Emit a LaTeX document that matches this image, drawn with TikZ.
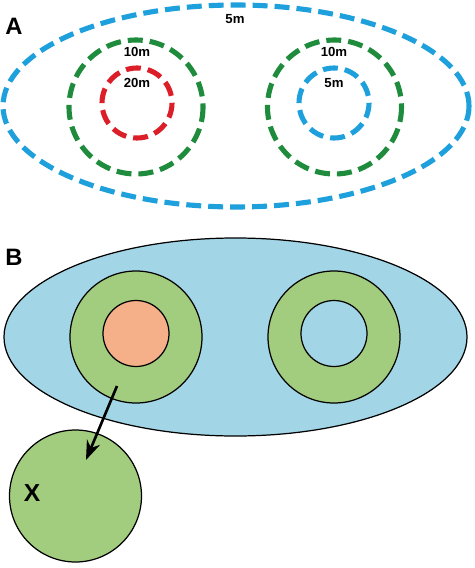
\documentclass[tikz,border=0pt]{standalone}
\usepackage{fontspec}
\setmainfont{Liberation Sans}
\usetikzlibrary{arrows.meta}
\definecolor{zoneblue}{RGB}{30,160,220}
\definecolor{zonegreen}{RGB}{30,140,60}
\definecolor{zonered}{RGB}{220,30,40}
\definecolor{fillblue}{RGB}{162,214,230}
\definecolor{fillgreen}{RGB}{162,204,126}
\definecolor{fillorange}{RGB}{245,176,138}

\begin{document}
\begin{tikzpicture}[x=0.2mm,y=-0.2mm,
    zone/.style={line width=2.9pt, dash pattern=on 8.5pt off 4pt},
    patch/.style={draw=black, line width=0.7pt},
    panel/.style={font=\fontsize{13.5}{16}\selectfont\bfseries},
    dist/.style={font=\fontsize{7.5}{9}\selectfont\bfseries}]
    \useasboundingbox (0,0) rectangle (474,568);

    % Panel A: dashed zones
    \draw[zone, zoneblue] (236,106) ellipse [x radius=233, y radius=101];
    \draw[zone, zonegreen] (136,107) circle [radius=67];
    \draw[zone, zonered] (137,103) circle [radius=35];
    \draw[zone, zonegreen] (334.5,107) circle [radius=67];
    \draw[zone, zoneblue] (334,103) circle [radius=35];

    % Panel A: labels
    \node[panel] (labelA) at (14,26) {A};
    \node[dist] (outerA) at (235,19) {5m};
    \node[dist] (leftmid) at (137,52) {10m};
    \node[dist] (leftin) at (137,83) {20m};
    \node[dist] (rightmid) at (334,52) {10m};
    \node[dist] (rightin) at (334,83) {5m};

    % Panel B: filled patches
    \filldraw[patch, fill=fillblue] (235.5,337) ellipse [x radius=231.5, y radius=99];
    \filldraw[patch, fill=fillgreen] (136,337) circle [radius=66];
    \filldraw[patch, fill=fillorange] (136,333.5) circle [radius=33];
    \filldraw[patch, fill=fillgreen] (334,337) circle [radius=66];
    \filldraw[patch, fill=fillblue] (334,333.5) circle [radius=33];
    \filldraw[patch, fill=fillgreen] (75.5,496) circle [radius=66];

    % Panel B: labels and move
    \node[panel] (labelB) at (14,257) {B};
    \node[font=\fontsize{14}{16}\selectfont\bfseries] (labelX) at (32,493) {X};
    \coordinate (from) at (117,386);
    \coordinate (to) at (86,460);
    \draw[-{Stealth[length=11pt,width=8pt]}, line width=1.5pt] (from) -- (to);
\end{tikzpicture}
\end{document}
